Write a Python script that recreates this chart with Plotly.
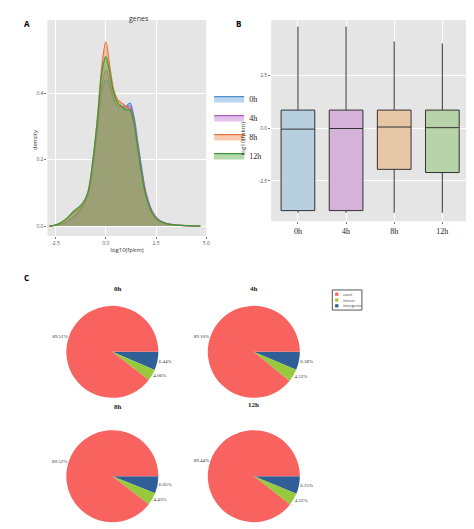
import plotly.graph_objects as go

# densidade (panel A)
dens_x = [-2.8, -2.4, -2.0, -1.6, -1.2, -0.9, -0.6, -0.4, -0.2, 0.0, 0.2, 0.4, 0.6,
          0.8, 1.0, 1.2, 1.4, 1.6, 1.8, 2.0, 2.3, 2.6, 3.0, 3.5, 4.0, 4.7]
dens_0h = [0, 0.003, 0.01, 0.025, 0.05, 0.09, 0.2, 0.3, 0.4, 0.44, 0.42, 0.38, 0.36,
           0.36, 0.36, 0.37, 0.33, 0.25, 0.17, 0.1, 0.045, 0.02, 0.008, 0.003, 0.001, 0]
dens_4h = [0, 0.003, 0.012, 0.03, 0.055, 0.09, 0.2, 0.31, 0.42, 0.47, 0.43, 0.38, 0.36,
           0.36, 0.36, 0.36, 0.32, 0.24, 0.16, 0.1, 0.045, 0.02, 0.008, 0.003, 0.001, 0]
dens_8h = [0, 0.005, 0.02, 0.04, 0.06, 0.1, 0.22, 0.34, 0.48, 0.555, 0.48, 0.41, 0.38,
           0.37, 0.36, 0.35, 0.31, 0.23, 0.15, 0.09, 0.04, 0.018, 0.007, 0.003, 0.001, 0]
dens_12h = [0, 0.005, 0.02, 0.045, 0.065, 0.1, 0.22, 0.33, 0.46, 0.51, 0.46, 0.40, 0.37,
            0.36, 0.35, 0.35, 0.31, 0.23, 0.15, 0.09, 0.04, 0.018, 0.007, 0.003, 0.001, 0]

# boxplot (panel B)
tempos = ['0h', '4h', '8h', '12h']
box_q1 = [-3.9, -3.9, -1.95, -2.1]
box_med = [-0.05, -0.02, 0.05, 0.02]
box_q3 = [0.85, 0.85, 0.85, 0.85]
box_low = [-4.0, -4.0, -4.0, -4.0]
box_up = [4.8, 4.8, 4.1, 4.0]

# pizza (panel C) - ordem: intergenic, intron, exon
regioes = ['intergenic', 'intron', 'exon']
pizza = {
    '0h': [6.44, 4.06, 89.51],
    '4h': [6.38, 4.52, 89.1],
    '8h': [6.05, 4.43, 89.52],
    '12h': [6.25, 4.32, 89.44],
}

linhas = ['#4f8fc9', '#b05cc0', '#e8743b', '#3a9a3a']
preench = ['rgba(100,160,220,0.45)', 'rgba(190,120,210,0.45)',
           'rgba(240,140,80,0.45)', 'rgba(90,170,70,0.45)']
caixas = ['#b8cfe0', '#d5b3d8', '#e7c6a6', '#b9d3a8']
cores_pizza = ['#2f5f96', '#97c93d', '#f8635f']

fig = go.Figure()

for nome, ys, lc, fc in zip(tempos, [dens_0h, dens_4h, dens_8h, dens_12h], linhas, preench):
    fig.add_trace(go.Scatter(x=dens_x, y=ys, name=nome, mode='lines', line=dict(color=lc, width=1.2, shape='spline'),
                             fill='tozeroy', fillcolor=fc, xaxis='x', yaxis='y'))

for i, t in enumerate(tempos):
    fig.add_trace(go.Box(x=[t], q1=[box_q1[i]], median=[box_med[i]], q3=[box_q3[i]],
                         lowerfence=[box_low[i]], upperfence=[box_up[i]], whiskerwidth=0, width=0.7,
                         fillcolor=caixas[i], line=dict(color='#333333', width=1),
                         showlegend=False, xaxis='x2', yaxis='y2'))

dominios = {'0h': ([0.122, 0.322], [0.263, 0.437]), '4h': ([0.423, 0.623], [0.263, 0.437]),
            '8h': ([0.122, 0.322], [0.028, 0.202]), '12h': ([0.423, 0.623], [0.028, 0.202])}
titulo_y = {'0h': 0.469, '4h': 0.469, '8h': 0.235, '12h': 0.238}
for j, t in enumerate(tempos):
    vals = pizza[t]
    fig.add_trace(go.Pie(labels=regioes, values=vals, sort=False, direction='clockwise', rotation=90,
                         marker=dict(colors=cores_pizza), textposition='outside',
                         text=[f'{v:.2f}%' for v in vals], textinfo='text',
                         textfont=dict(size=5, family='Liberation Serif', color='#333'),
                         domain=dict(x=dominios[t][0], y=dominios[t][1]),
                         showlegend=False, hoverinfo='label+percent'))

# legenda das pizzas desenhada à mão (a legenda do plotly fica grande demais)
formas = [dict(type='rect', xref='paper', yref='paper', x0=0.69, x1=0.753, y0=0.429, y1=0.467,
               line=dict(color='#555', width=1), fillcolor='white')]
notas_leg = []
for k, (nome, cor) in enumerate(zip(['exon', 'intron', 'intergenic'], ['#f8635f', '#97c93d', '#2f5f96'])):
    yy = 0.459 - k * 0.011
    formas.append(dict(type='rect', xref='paper', yref='paper', x0=0.696, x1=0.703, y0=yy - 0.003, y1=yy + 0.003,
                       line=dict(width=0), fillcolor=cor))
    notas_leg.append(dict(text=nome, x=0.708, y=yy, xref='paper', yref='paper', xanchor='left', showarrow=False,
                          font=dict(size=4, color='#333')))

eixo = dict(showgrid=True, gridcolor='white', zeroline=False, ticks='outside', ticklen=2,
            tickcolor='#777', tickfont=dict(size=5, color='#555'))
fig.update_layout(
    width=474, height=529, margin=dict(l=0, r=0, t=0, b=0),
    paper_bgcolor='white', plot_bgcolor='#e5e5e5', showlegend=True,
    xaxis=dict(eixo, domain=[0.084, 0.422], range=[-2.9, 5.0], tickvals=[-2.5, 0, 2.5, 5.0],
               ticktext=['-2.5', '0.0', '2.5', '5.0'], anchor='y',
               title=dict(text='log10(fpkm)', font=dict(size=6, color='#333'), standoff=2)),
    yaxis=dict(eixo, domain=[0.569, 0.977], range=[-0.03, 0.62], tickvals=[0, 0.2, 0.4],
               ticktext=['0.0', '0.2', '0.4'], anchor='x'),
    xaxis2=dict(eixo, domain=[0.56, 0.981], anchor='y2',
                tickfont=dict(size=8, family='Liberation Serif', color='#222')),
    yaxis2=dict(eixo, domain=[0.597, 0.977], range=[-4.4, 5.1], tickvals=[-2.5, 0, 2.5],
                ticktext=['-2.5', '0.0', '2.5'], anchor='x2'),
    legend=dict(x=0.428, y=0.775, xanchor='left', yanchor='middle',
                font=dict(size=8, family='Liberation Serif', color='#222'),
                bgcolor='rgba(0,0,0,0)', itemwidth=30, tracegroupgap=2),
    shapes=formas,
    annotations=[
        dict(text='<b>A</b>', x=0.03, y=0.985, xref='paper', yref='paper', showarrow=False, font=dict(size=8, color='black')),
        dict(text='genes', x=0.253, y=0.992, xref='paper', yref='paper', showarrow=False,
             font=dict(size=7, color='#333')),
        dict(text='<b>B</b>', x=0.49, y=0.985, xref='paper', yref='paper', showarrow=False, font=dict(size=8, color='black')),
        dict(text='<b>C</b>', x=0.03, y=0.49, xref='paper', yref='paper', showarrow=False, font=dict(size=8, color='black')),
        dict(text='density', x=0.045, y=0.773, xref='paper', yref='paper', showarrow=False, textangle=-90,
             font=dict(size=6, color='#333')),
        dict(text='log10(fpkm)', x=0.5, y=0.787, xref='paper', yref='paper', showarrow=False, textangle=-90,
             font=dict(size=6, color='#333')),
    ] + [dict(text=f'<b>{t}</b>', x=(dominios[t][0][0] + dominios[t][0][1]) / 2, y=titulo_y[t],
              xref='paper', yref='paper', showarrow=False,
              font=dict(size=7, family='Liberation Serif', color='#222')) for t in tempos] + notas_leg,
)

fig.write_html('out.html')
